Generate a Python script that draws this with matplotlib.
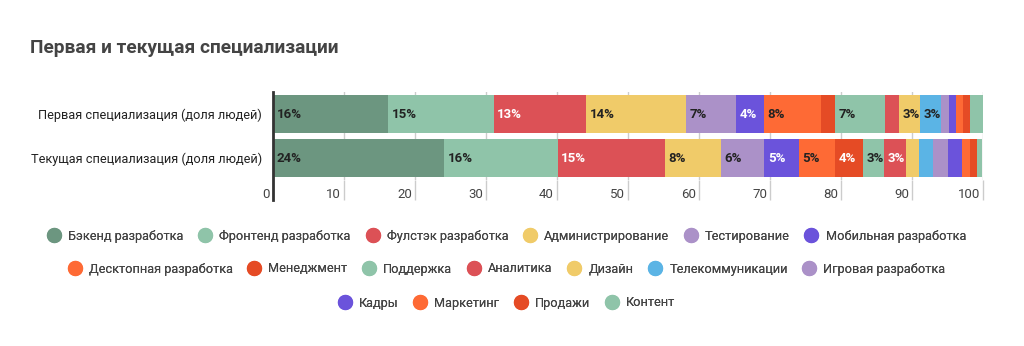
import numpy as np
import matplotlib
matplotlib.use("Agg")
import matplotlib.pyplot as plt
import matplotlib.transforms as mtransforms
from matplotlib.lines import Line2D

plt.rcParams['font.family'] = ['Roboto', 'DejaVu Sans']

# --- data ---
rows = ["Первая специализация (доля людей)", "Текущая специализация (доля людей)"]
specs = ["Бэкенд разработка", "Фронтенд разработка", "Фулстэк разработка",
         "Администрирование", "Тестирование", "Мобильная разработка",
         "Десктопная разработка", "Менеджмент", "Поддержка", "Аналитика",
         "Дизайн", "Телекоммуникации", "Игровая разработка", "Кадры",
         "Маркетинг", "Продажи", "Контент"]
first = [16.2, 14.9, 13.0, 14.1, 7.0, 4.0, 8.0, 2.0, 7.0, 2.0, 2.9, 3.0, 1.1, 1.0, 1.0, 1.0, 1.8]
current = [24.1, 16.0, 15.1, 7.9, 6.1, 4.9, 5.1, 3.9, 3.0, 3.0, 1.9, 2.0, 2.1, 2.0, 1.0, 1.0, 0.8]
colors = ["#6C9680", "#8FC4A9", "#DC5156", "#F0CB69", "#AB91C8", "#6B53DB",
          "#FE6A35", "#E54B25", "#8FC4A9", "#DC5156", "#F0CB69", "#5BB4E5",
          "#AB91C8", "#6B53DB", "#FE6A35", "#E54B25", "#8FC4A9"]
xticks = [0, 10, 20, 30, 40, 50, 60, 70, 80, 90, 100]
legend_rows = [6, 7, 4]

white_text = {"#DC5156", "#6B53DB", "#E54B25"}

fig = plt.figure(figsize=(10.24, 3.46), dpi=100)
ax = fig.add_axes([273 / 1024, 1 - 180 / 346, 710 / 1024, 88 / 346])

values = np.array([first, current])
lefts = np.zeros(len(rows))
for j, name in enumerate(specs):
    w = values[:, j]
    ax.barh(np.arange(len(rows)), w, left=lefts, height=0.886,
            color=colors[j], edgecolor="none", zorder=2)
    for i in range(len(rows)):
        if w[i] >= 2.5:
            tc = "white" if colors[j] in white_text else "#222222"
            ax.text(lefts[i] + 0.5, i, f"{round(w[i])}%", ha="left", va="center",
                    fontsize=9.5, fontweight="bold", color=tc, zorder=3)
    lefts += w

ax.set_xlim(0, 100)
ax.set_ylim(1.5, -0.5)
ax.set_yticks(np.arange(len(rows)))
ax.set_yticklabels(rows, fontsize=9.2, color="#222222")
ax.tick_params(axis="y", length=0, pad=8)

ax.set_xticks(xticks)
ax.set_xticklabels([])
ax.tick_params(axis="x", length=14.5, color="#cccccc", width=1)
ax.grid(axis="x", color="#cccccc", linewidth=1, zorder=0)
for s in ["top", "right", "bottom"]:
    ax.spines[s].set_visible(False)
ax.spines["left"].set_visible(False)
ax.axvline(0, ymin=-0.23, ymax=1.0, color="#333333", linewidth=2, clip_on=False, zorder=4)

trans = mtransforms.offset_copy(ax.get_xaxis_transform(), fig=fig, x=-3, y=0, units="dots")
for t in xticks:
    ax.text(t, -0.16, str(t), transform=trans, ha="right", va="center",
            fontsize=9.5, color="#444444")

fig.text(30 / 1024, 1 - 48 / 346, "Первая и текущая специализации", fontsize=13.8,
         fontweight="bold", color="#444444", ha="left", va="center")

# legend in three centred rows
handles = [Line2D([], [], marker="o", linestyle="none", markersize=11,
                  markerfacecolor=c, markeredgecolor="none") for c in colors]
row_y = [1 - 236 / 346, 1 - 269 / 346, 1 - 303 / 346]
start = 0
for n, y in zip(legend_rows, row_y):
    leg = fig.legend(handles[start:start + n], specs[start:start + n], loc="center",
                     bbox_to_anchor=(0.495, y), ncol=n, frameon=False, fontsize=9.2,
                     handlelength=1.0, handletextpad=0.6, columnspacing=1.2,
                     borderaxespad=0, borderpad=0)
    for txt in leg.get_texts():
        txt.set_color("#444444")
    fig.add_artist(leg)
    start += n

fig.savefig("out.png", dpi=100, facecolor="white")
